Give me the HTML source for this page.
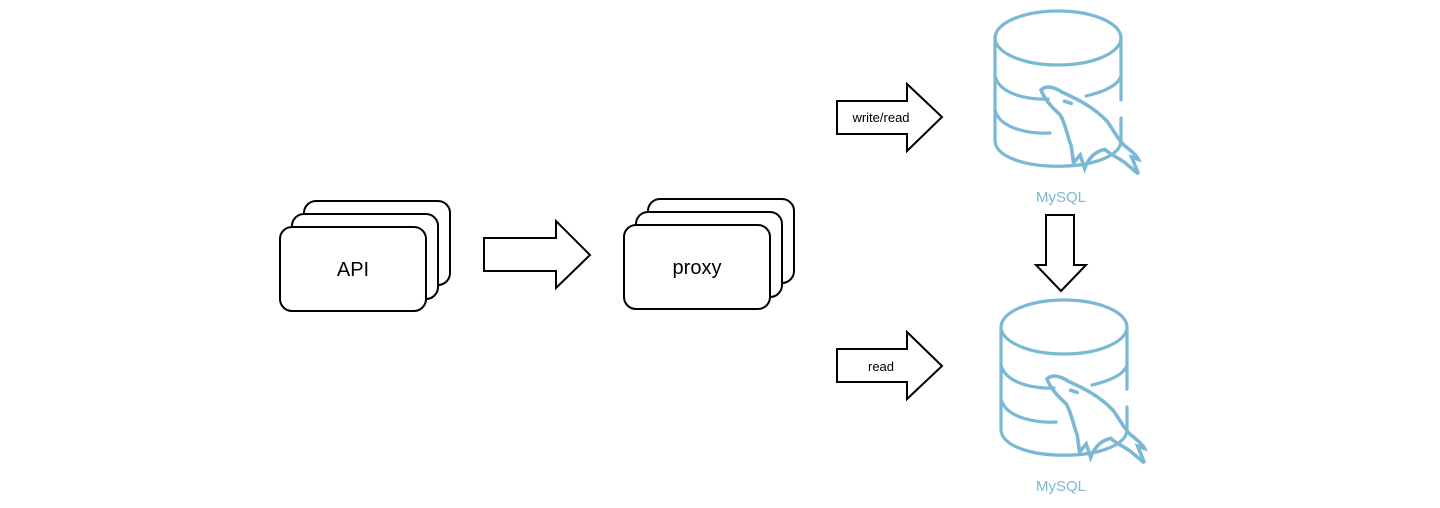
<!DOCTYPE html>
<html><head><style>
html,body{margin:0;padding:0;background:#fff;}
svg{display:block}
</style></head><body>
<svg width="1440" height="508" viewBox="0 0 1440 508" xmlns="http://www.w3.org/2000/svg" font-family="Liberation Sans, sans-serif">
<defs>
<g id="db" fill="none" stroke="#7ab8d4" stroke-width="3.2" stroke-linecap="round">
  <ellipse cx="0" cy="38" rx="63" ry="27"/>
  <path d="M-63 38 V140 C-63 175 63 175 63 140 V118"/>
  <path d="M63 38 V100"/>
  <path d="M-63 76 C-58 96 -25 100 -10 99"/>
  <path d="M63 76 C60 86 45 92 28 96"/>
  <path d="M-63 110 C-58 130 -25 134 -8 133"/>
  <g transform="translate(-17 90) scale(1.12) translate(17 -90)">
  <path d="M-17 90 C-12 85 -4 88 2 92 C15 98 30 105 42 118 C48 126 52 135 58 140 C63 144 68 148 70 152 L64 150 L70 165 L58 155 C52 150 45 148 40 143 C30 145 25 152 22 160 L18 148 L12 155 L10 140 C6 130 5 120 0 112 C-8 105 -14 98 -17 90 Z"/>
  <path d="M4 100 L10 102"/>
  </g>
</g>
<g id="stack" fill="#fff" stroke="#000" stroke-width="2">
  <rect x="24" y="-26" width="146" height="84" rx="12"/>
  <rect x="12" y="-13" width="146" height="85" rx="12"/>
  <rect x="0" y="0" width="146" height="84" rx="12"/>
</g>
</defs>
<use href="#stack" x="280" y="227"/>
<text x="353" y="276" font-size="20" text-anchor="middle">API</text>
<use href="#stack" x="624" y="225"/>
<text x="697" y="274" font-size="20" text-anchor="middle">proxy</text>

<g fill="#fff" stroke="#000" stroke-width="2" stroke-linejoin="miter">
  <path d="M484 238 H556 V221 L590 255 L556 288 V271 H484 Z"/>
  <path d="M837 101 H907 V84 L942 117 L907 151 V134 H837 Z"/>
  <path d="M837 349 H907 V332 L942 366 L907 399 V382 H837 Z"/>
  <path d="M1046 215 H1074 V265 H1086 L1061 291 L1036 265 H1046 Z"/>
</g>
<text x="881" y="122" font-size="13" text-anchor="middle">write/read</text>
<text x="881" y="371" font-size="13" text-anchor="middle">read</text>

<use href="#db" x="1058" y="0"/>
<text x="1061" y="202" font-size="15" fill="#7ab8d4" text-anchor="middle">MySQL</text>
<use href="#db" x="1064" y="289"/>
<text x="1061" y="491" font-size="15" fill="#7ab8d4" text-anchor="middle">MySQL</text>
</svg>
</body></html>
